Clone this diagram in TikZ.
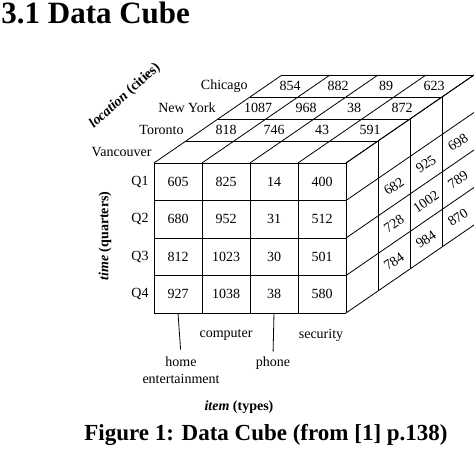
\documentclass[tikz,border=0pt]{standalone}
\usepackage{fontspec}
\setmainfont{Liberation Serif}
\tikzset{
	lbl/.style={font=\fontsize{14}{17}\selectfont, inner sep=1pt},
	val/.style={font=\fontsize{14}{17}\selectfont, inner sep=0pt},
	axislbl/.style={font=\fontsize{14}{17}\selectfont\bfseries, inner sep=0pt},
}
\begin{document}
\begin{tikzpicture}[line width=0.8pt]
			\useasboundingbox (0,0) rectangle (474pt,455pt);

			\node [anchor=base west, inner sep=0pt, font=\fontsize{31}{36}\selectfont\bfseries] (title) at (1pt,431pt) {3.1 Data Cube};

			\begin{scope}[shift={(154pt,142pt)}, x={(48pt,0pt)}, y={(0pt,37.5pt)}, z={(32pt,22pt)}]
				\foreach \i in {0,...,4} {
					\draw [] (\i,0,0) -- (\i,4,0);
					\draw [] (0,\i,0) -- (4,\i,0);
					\draw [] (\i,4,0) -- (\i,4,4);
					\draw [] (0,4,\i) -- (4,4,\i);
					\draw [] (4,\i,0) -- (4,\i,4);
					\draw [] (4,0,\i) -- (4,4,\i);
				}

				\foreach \vals [count=\r] in {{605,825,14,400},{680,952,31,512},{812,1023,30,501},{927,1038,38,580}}
					\foreach \v [count=\c] in \vals
						\node [val] (front-\r-\c) at (\c-0.5,4.5-\r,0) {\v};

				\foreach \vals [count=\k] in {{818,746,43,591},{1087,968,38,872},{854,882,89,623}}
					\foreach \v [count=\c] in \vals
						\node [val] (top-\k-\c) at (\c-0.5,4,\k+0.5) {\v};

				\foreach \vals [count=\k] in {{682,728,784},{925,1002,984},{698,789,870}}
					\foreach \v [count=\r] in \vals
						\node [val, rotate=34.5] (side-\k-\r) at (4,3.5-\r,\k+0.5) {\v};

				\foreach \q [count=\r] in {Q1,Q2,Q3,Q4}
					\node [lbl, anchor=east, xshift=-4pt] (\q) at (0,4.5-\r,0) {\q};

				\foreach \city/\nm [count=\k from 0] in {Vancouver/van, Toronto/tor, New York/ny, Chicago/chi}
					\node [lbl, anchor=east, xshift=-17pt] (\nm) at (0,4,\k+0.5) {\city};

				\coordinate (homeTop) at (0.5,0,0);
				\coordinate (phoneTop) at (2.5,0,0);
			\end{scope}

			\node [lbl] (computer) at (226pt,120pt) {computer};
			\node [lbl] (security) at (321pt,120pt) {security};
			\node [lbl, align=center, anchor=north] (home) at (181pt,99.5pt) {home\\entertainment};
			\node [lbl, anchor=north] (phone) at (273pt,99.5pt) {phone};
			\draw [shorten >=6pt] (homeTop) -- (home.north);
			\draw [shorten >=4pt] (phoneTop) -- (phone.north);

			\node [axislbl] (item) at (239pt,48pt) {\textit{item} (types)};
			\node [axislbl, rotate=90] (time) at (105pt,219pt) {\textit{time} (quarters)};
			\node [axislbl, rotate=42] (location) at (125pt,359pt) {\textit{location} (cities)};

			\node [anchor=base, inner sep=0pt, font=\fontsize{23}{27}\selectfont\bfseries] (caption) at (266pt,14pt) {Figure 1: Data Cube (from [1] p.138)};

		\end{tikzpicture}
\end{document}
